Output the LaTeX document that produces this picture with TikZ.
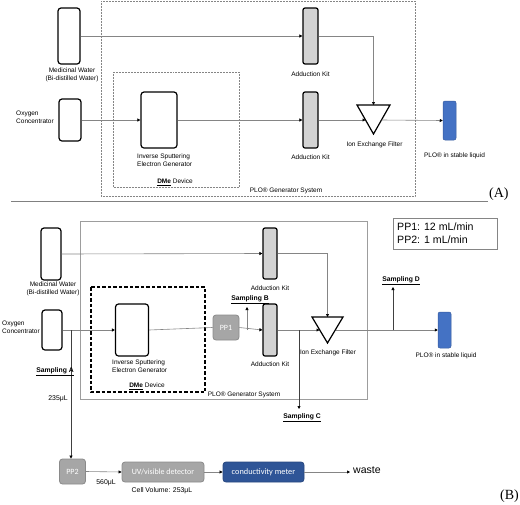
\documentclass[tikz,border=0pt]{standalone}
\usepackage{fontspec}
\setmainfont{Liberation Sans}
\newfontfamily\serifA{Liberation Serif}
\newfontfamily\calib{Carlito}
\usetikzlibrary{arrows.meta}
\definecolor{lineg}{HTML}{858585}
\definecolor{kitg}{HTML}{D3D3D3}
\definecolor{plob}{HTML}{4472C4}
\definecolor{condb}{HTML}{2F5597}
\definecolor{pumpg}{HTML}{A6A6A6}
\definecolor{pumpd}{HTML}{8A8A8A}
\tikzset{
  tank/.style={draw=black, line width=1.2pt, rounded corners=3pt, inner sep=0pt, fill=white},
  kit/.style={tank, fill=kitg, rounded corners=2pt},
  plo/.style={draw=plob!80!black, line width=0.5pt, fill=plob, rounded corners=2pt, inner sep=0pt},
  pump/.style={draw=pumpd, line width=0.8pt, fill=pumpg, rounded corners=3pt, inner sep=0pt, text=white, font=\calib\fontsize{8}{9}\selectfont},
  meter/.style={draw=condb!85!black, line width=0.8pt, fill=condb, rounded corners=3pt, inner sep=0pt, text=white, font=\calib\fontsize{8.3}{9}\selectfont},
  flow/.style={draw=lineg, line width=0.6pt, -{Triangle[length=3pt,width=3pt,color=black]}},
  pipe/.style={draw=lineg, line width=0.6pt},
  lbl/.style={font=\fontsize{6.5}{7.8}\selectfont, inner sep=0pt, align=center},
  lbll/.style={lbl, align=left, anchor=west},
  samp/.style={font=\bfseries\fontsize{6.8}{8}\selectfont, inner sep=0pt},
  filt/.style={draw=black, line width=1.2pt, line join=miter},
  dotbox/.style={draw=lineg, line width=0.5pt, densely dotted},
  panel/.style={font=\serifA\fontsize{14}{16}\selectfont, inner sep=0pt}
}
\begin{document}
\begin{tikzpicture}[x=1pt,y=-1pt]
\useasboundingbox (0,0) rectangle (520,504);
% ================= PART A =================
\draw[dotbox] (101,1) rectangle (415,196);
\draw[dotbox] (113,72) rectangle (239,187);
\node[tank, minimum width=22pt, minimum height=56pt] (waterA) at (69,36) {};
\node[tank, minimum width=22pt, minimum height=42pt] (oxyA) at (70,120) {};
\node[tank, minimum width=36pt, minimum height=56pt] (genA) at (159,120) {};
\node[kit, minimum width=15pt, minimum height=56pt] (kitA1) at (310.5,36) {};
\node[kit, minimum width=15pt, minimum height=56pt] (kitA2) at (310.5,120) {};
\node[plo, minimum width=13pt, minimum height=39pt] (ploA) at (449.5,120.5) {};
\coordinate (fAtl) at (357,105);
\coordinate (fAtr) at (390,105);
\coordinate (fAap) at (373.5,134);
\coordinate (fAtop) at (373.5,105);
\coordinate (fAin) at (365.5,120);
\coordinate (fAout) at (381.5,120);
\coordinate (bendA) at (373.5,36);
\draw[filt] (fAtl) -- (fAtr) -- (fAap) -- cycle;
\draw[flow] (waterA.east) -- (kitA1.west);
\draw[flow] (oxyA.east) -- (genA.west);
\draw[flow] (genA.east) -- (kitA2.west);
\draw[flow] (kitA2.east) -- (fAin);
\draw[flow] (kitA1.east) -- (bendA) -- (fAtop);
\draw[flow] (fAout) -- (ploA.west);
\node[lbl] (lwA) at (72,75) {Medicinal Water\\(Bi-distilled Water)};
\node[lbll] (loA) at (16,117) {Oxygen\\Concentrator};
\node[lbll] (lgA) at (137,160) {Inverse Sputtering\\Electron Generator};
\node[lbl] (ldA) at (175,182) {\underline{\textbf{DMe}} Device};
\node[lbl] (lsA) at (286,191) {PLO® Generator System};
\node[lbl] (lk1A) at (310.5,74) {Adduction Kit};
\node[lbl] (lk2A) at (310.5,157) {Adduction Kit};
\node[lbl] (lfA) at (374.5,145) {Ion Exchange Filter};
\node[lbl] (lpA) at (454.5,155.5) {PLO® in stable liquid};
% separator
\coordinate (sepL) at (11,201.5);
\coordinate (sepR) at (488,201.5);
\draw[draw=gray, line width=1.8pt] (sepL) -- (sepR);
\node[panel, anchor=south west] (pA) at (489,200.5) {(A)};
% ================= PART B =================
\draw[draw=lineg!80, line width=0.6pt] (80,221) rectangle (367,399);
\draw[draw=black, line width=1.3pt, dash pattern=on 3.5pt off 2pt] (91,287) rectangle (205,392);
\node[tank, minimum width=20pt, minimum height=52pt] (waterB) at (51,254) {};
\node[tank, minimum width=20pt, minimum height=40pt] (oxyB) at (52,330) {};
\node[tank, minimum width=33pt, minimum height=52pt] (genB) at (132,330) {};
\node[kit, minimum width=14pt, minimum height=51pt] (kitB1) at (270,253.5) {};
\node[kit, minimum width=14pt, minimum height=52pt] (kitB2) at (270,330) {};
\node[plo, minimum width=13pt, minimum height=36pt] (ploB) at (444.5,330) {};
\node[pump, minimum width=26pt, minimum height=25pt] (pp1) at (226,327.5) {PP1};
\node[pump, minimum width=26pt, minimum height=25pt] (pp2) at (72.5,471.5) {PP2};
\node[pump, minimum width=82pt, minimum height=20pt] (uv) at (163,472) {UV/visible detector};
\node[meter, minimum width=81pt, minimum height=20pt] (cond) at (263.5,472) {conductivity meter};
\node[draw=lineg, line width=0.7pt, inner sep=0pt, minimum width=104pt, minimum height=31pt] (ppbox) at (445,233.5) {};
\node[font=\fontsize{10.6}{13}\selectfont, align=left, anchor=west, inner sep=0pt] (pptxt) at (397,233.5) {PP1: 12 mL/min\\PP2: 1 mL/min};
\coordinate (fBtl) at (312,317);
\coordinate (fBtr) at (343,317);
\coordinate (fBap) at (327.5,343);
\coordinate (fBtop) at (327.5,317);
\coordinate (fBin) at (319.5,330);
\coordinate (fBout) at (335.5,330);
\coordinate (bendB) at (327.5,253.5);
\draw[filt] (fBtl) -- (fBtr) -- (fBap) -- cycle;
\coordinate (jA) at (71,330);
\coordinate (jB) at (247,330);
\coordinate (jC) at (299,330);
\coordinate (jD) at (393,330);
\coordinate (eB) at (247,307);
\coordinate (eC) at (299,409);
\coordinate (eD) at (393,287);
\coordinate (waste) at (350,472);
\draw[flow] (waterB.east) -- (kitB1.west);
\draw[flow] (oxyB.east) -- (genB.west);
\draw[pipe] (genB.east) -- (pp1.west);
\draw[flow] (pp1.east) -- (kitB2.west);
\draw[flow] (kitB2.east) -- (fBin);
\draw[flow] (kitB1.east) -- (bendB) -- (fBtop);
\draw[flow] (fBout) -- (ploB.west);
\draw[flow, line width=0.7pt, draw=black!75] (jA) -- (jA |- pp2.north);
\draw[flow] (jB) -- (eB);
\draw[flow, line width=0.7pt, draw=black!75] (jC) -- (eC);
\draw[flow, draw=black!75] (jD) -- (eD);
\draw[flow] (pp2.east) -- (uv.west);
\draw[flow] (uv.east) -- (cond.west);
\draw[flow] (cond.east) -- (waste);
\node[font=\fontsize{10.5}{12}\selectfont, anchor=west, inner sep=0pt] (lwaste) at (353,470.5) {waste};
\node[lbl] (lwB) at (53,289) {Medicinal Water\\(Bi-distilled Water)};
\node[lbll] (loB) at (2,327) {Oxygen\\Concentrator};
\node[lbll] (lgB) at (112,366.5) {Inverse Sputtering\\Electron Generator};
\node[lbl] (ldB) at (147,386) {\underline{\textbf{DMe}} Device};
\node[lbl] (lsB) at (244,394.5) {PLO® Generator System};
\node[lbl] (lk1B) at (270,288) {Adduction Kit};
\node[lbl] (lk2B) at (270,364) {Adduction Kit};
\node[lbl] (lfB) at (328,353) {Ion Exchange Filter};
\node[lbl] (lpB) at (446,356) {PLO® in stable liquid};
\node[samp] (sA) at (55,372) {\underline{Sampling A}};
\node[samp] (sB) at (250,300) {\underline{Sampling B}};
\node[samp] (sC) at (302,418) {\underline{Sampling C}};
\node[samp] (sD) at (401,281) {\underline{Sampling D}};
\node[lbl, font=\fontsize{6.9}{8}\selectfont] (v235) at (58,399) {235μL};
\node[lbl, font=\fontsize{6.9}{8}\selectfont] (v560) at (106,483) {560μL};
\node[lbl, font=\fontsize{6.9}{8}\selectfont] (cell) at (162,491) {Cell Volume: 253μL};
\node[panel, anchor=south west] (pB) at (500,502.5) {(B)};
\end{tikzpicture}
\end{document}
